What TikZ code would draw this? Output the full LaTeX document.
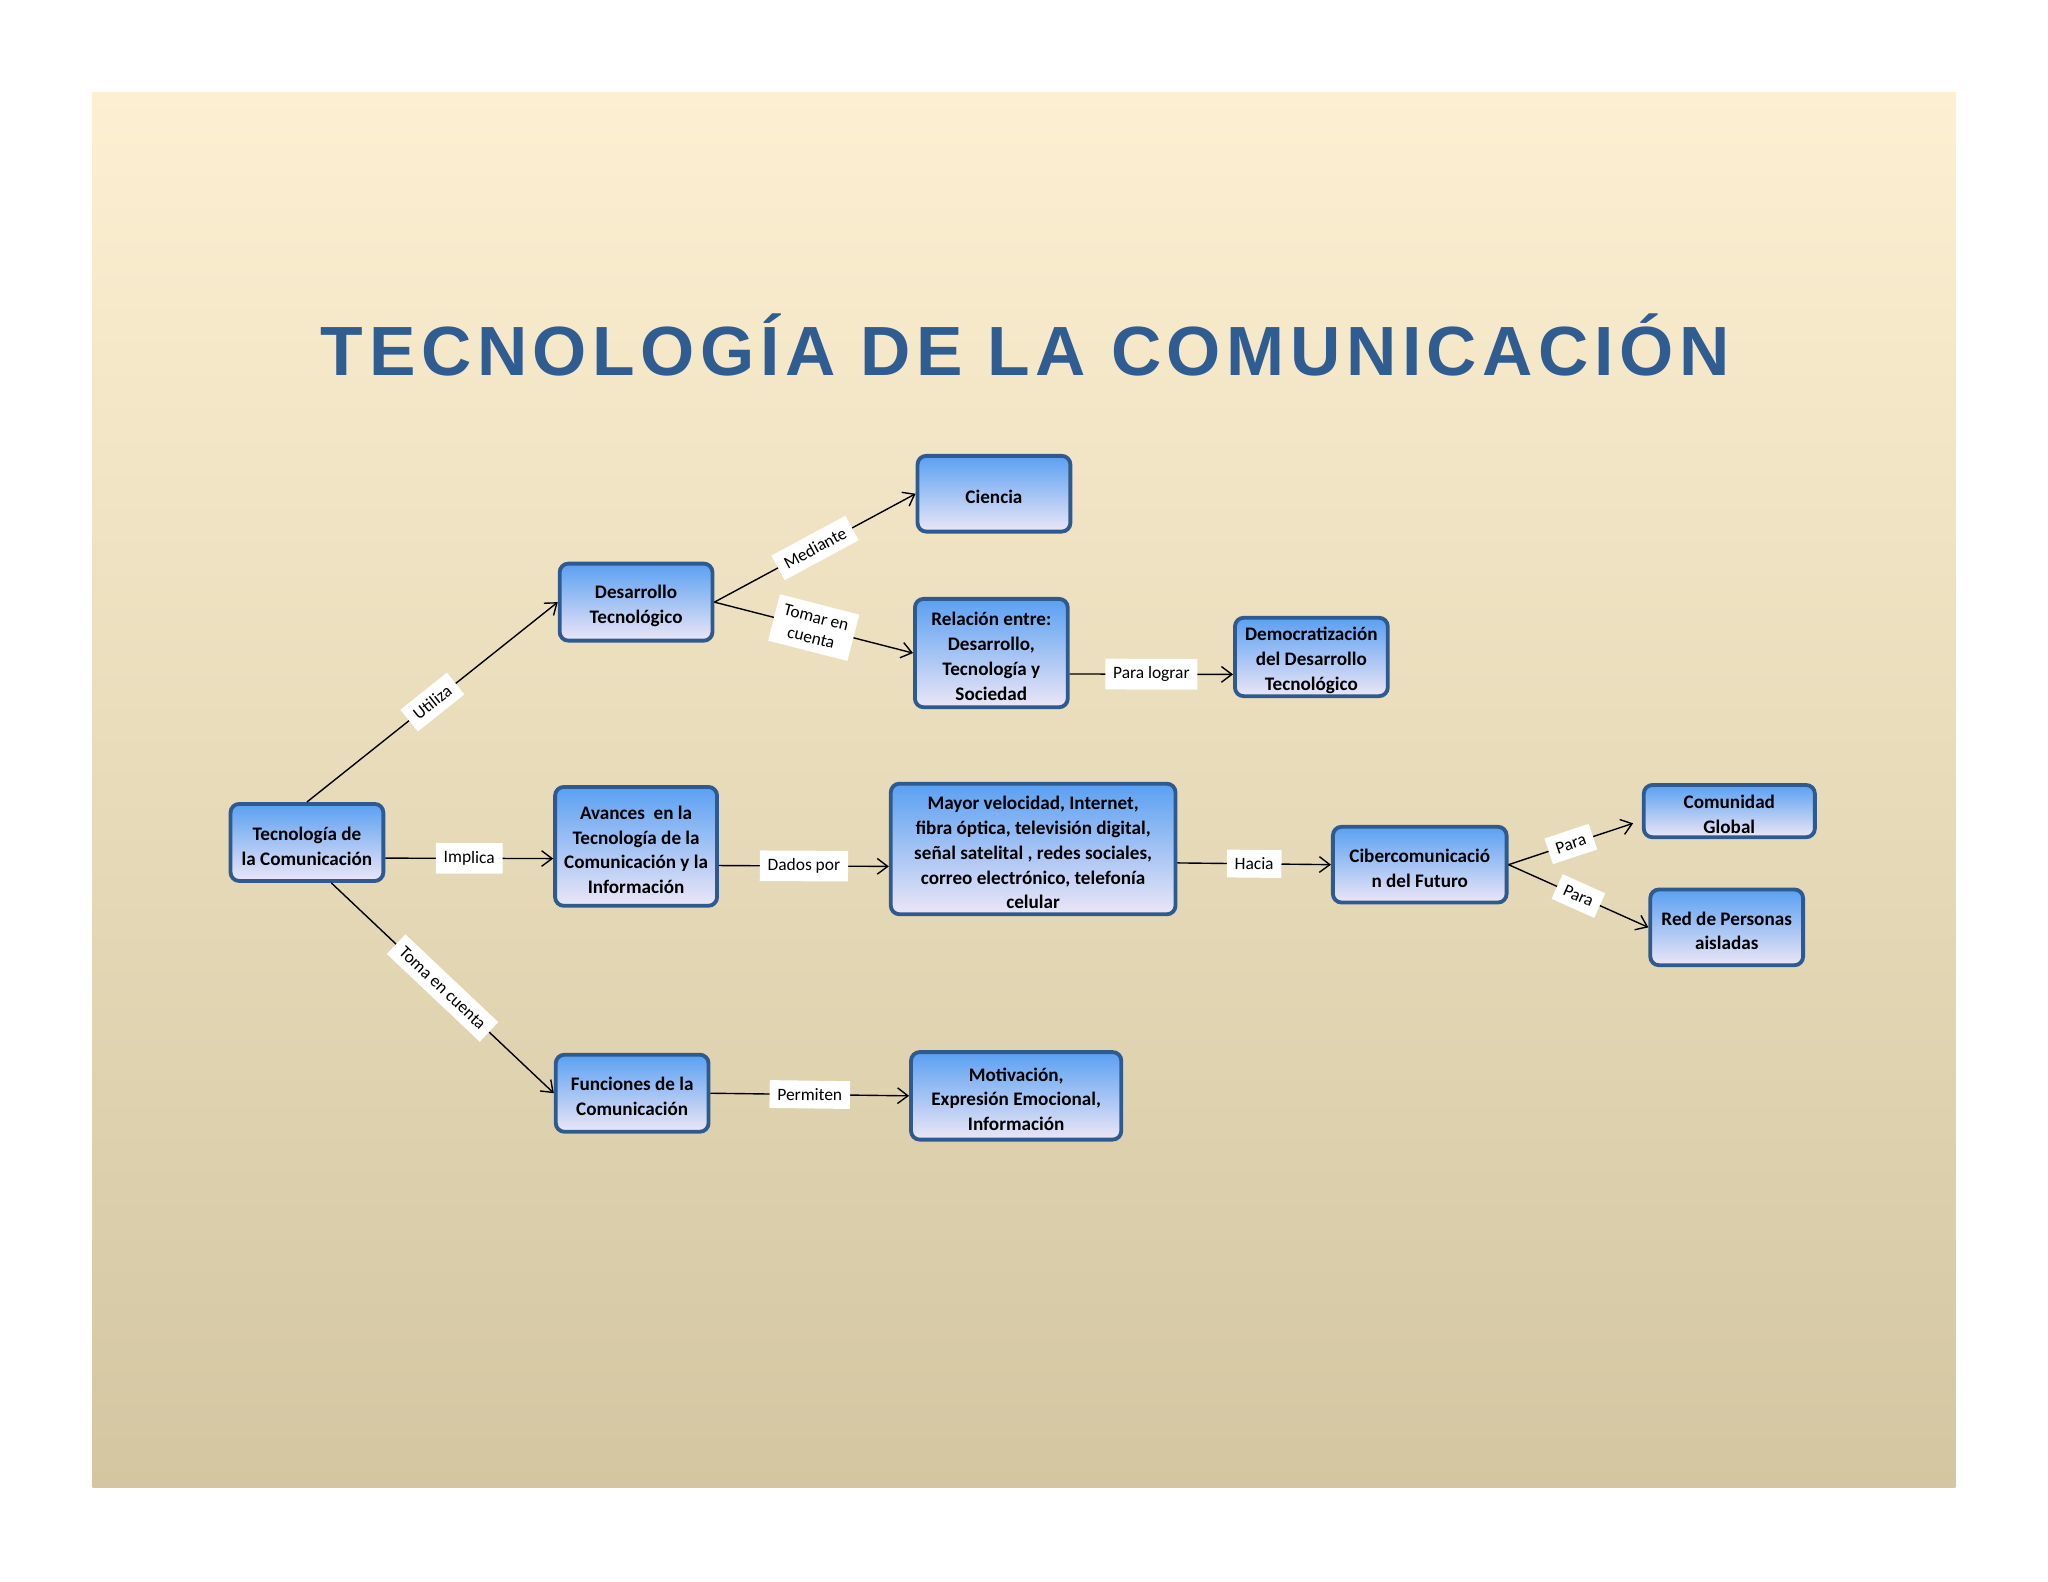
\documentclass[tikz,border=0pt]{standalone}
\usepackage{fontspec}
\setmainfont{Carlito}
\newfontfamily\titlefont[LetterSpace=8]{Liberation Sans}
\begin{document}
\begin{tikzpicture}[x=0.75pt,y=-0.75pt,
  box/.style={draw=bdr,line width=2.2pt,rounded corners=5pt,top color=topb,bottom color=botb,inner sep=0pt},
  btext/.style={font=\bfseries\fontsize{11}{14.3}\selectfont,align=center,text=black},
  lab/.style={fill=white,font=\fontsize{10}{12}\selectfont,inner sep=4.5pt,align=center,midway,sloped},
  arr/.style={->,>={Straight Barb[length=6pt,width=9pt]},line width=0.8pt}]
\usetikzlibrary{arrows.meta}
\definecolor{bdr}{HTML}{2F5A8F}
\definecolor{topb}{HTML}{5AA0F2}
\definecolor{botb}{HTML}{ECE6F6}
\definecolor{bgt}{HTML}{FDF0D2}
\definecolor{bgb}{HTML}{D3C6A1}
\definecolor{ttl}{HTML}{2F5C91}
\useasboundingbox (0,0) rectangle (1568,1211);
\fill[white] (0,0) rectangle (1568,1211);
\shade[top color=bgt,bottom color=bgb] (71,71) rectangle (1497,1139);
\node[text=ttl,font=\titlefont\bfseries\fontsize{40}{44}\selectfont] (title) at (785,264) {TECNOLOGÍA DE LA COMUNICACIÓN};
\newcommand\bx[6]{\node[box,minimum width=#4*0.75pt,minimum height=#5*0.75pt] (#1) at (#2,#3) {}; \node[btext] at ([yshift=-2pt]#1) {#6};}
\bx{cien}{761}{378}{117}{58}{Ciencia}
\bx{des}{487}{461}{117}{59}{Desarrollo\\Tecnológico}
\bx{rel}{759}{500}{117}{83}{Relación entre:\\Desarrollo,\\Tecnología y\\Sociedad}
\bx{dem}{1004}{503}{117}{60}{Democratización\\del Desarrollo\\Tecnológico}
\bx{tec}{235}{645}{117}{59}{Tecnología de\\la Comunicación}
\bx{ava}{487}{648}{124}{91}{Avances \ en la\\Tecnología de la\\Comunicación y la\\Información}
\bx{may}{791}{650}{218}{100}{Mayor velocidad, Internet,\\fibra óptica, televisión digital,\\señal satelital , redes sociales,\\correo electrónico, telefonía\\celular}
\bx{cib}{1087}{662}{133}{58}{Cibercomunicació\\n del Futuro}
\bx{com}{1324}{621}{131}{40}{Comunidad\\Global}
\bx{red}{1322}{710}{117}{58}{Red de Personas\\aisladas}
\bx{fun}{484}{837}{117}{59}{Funciones de la\\Comunicación}
\bx{mot}{778}{839}{161}{67}{Motivación,\\Expresión Emocional,\\Información}
\draw[arr] (tec.north) -- node[lab]{Utiliza} (des.west);
\draw[arr] (des.east) -- node[lab]{Mediante} (cien.west);
\draw[arr] (des.east) -- node[lab]{Tomar en\\cuenta} (rel.west);
\draw[arr] ([yshift=-12pt]rel.east) -- node[lab]{Para lograr} ([yshift=-10pt]dem.west);
\draw[arr] ([yshift=-9pt]tec.east) -- node[lab]{Implica} ([yshift=-7pt]ava.west);
\draw[arr] ([yshift=-11pt]ava.east) -- node[lab]{Dados por} ([yshift=-10pt]may.west);
\draw[arr] ([yshift=-8pt]may.east) -- node[lab]{Hacia} (cib.west);
\draw[arr] (cib.east) -- node[lab]{Para} ([xshift=-5pt,yshift=-7pt]com.west);
\draw[arr] (cib.east) -- node[lab]{Para} (red.west);
\draw[arr] ([xshift=14pt]tec.south) -- node[lab]{Toma en cuenta} (fun.west);
\draw[arr] (fun.east) -- node[lab]{Permiten} (mot.west);
\end{tikzpicture}
\end{document}
